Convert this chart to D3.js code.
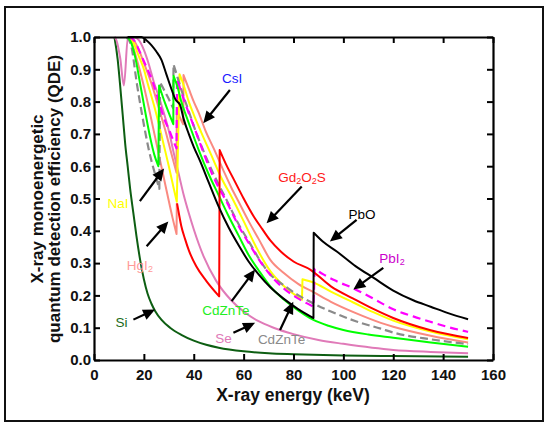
<!DOCTYPE html>
<html><head><meta charset="utf-8">
<script src="https://cdn.jsdelivr.net/npm/d3@7"></script>
<style>
html,body{margin:0;padding:0;background:#fff;}
svg{display:block;font-family:"Liberation Sans",Arial,sans-serif;}
</style></head>
<body><svg id="c" width="550" height="427"></svg>
<script>
// ---- data (energy keV, QDE); each series = list of continuous segments ----
const xTicks = [0,20,40,60,80,100,120,140,160];
const yTicks = [0,0.1,0.2,0.3,0.4,0.5,0.6,0.7,0.8,0.9,1.0];
const xLabel = "X-ray energy (keV)";
const yLabel1 = "X-ray monoenergetic";
const yLabel2 = "quantum detection efficiency (QDE)";

const siQDE = [[[8.2,1.0],[9.5,0.93],[10.4,0.857],[11.5,0.76],[12.5,0.67],[13.5,0.6],[14.5,0.53],[15.8,0.454],[17,0.385],[18.5,0.31],[20,0.25],[21.5,0.205],[23,0.175],[24.5,0.152],[27,0.125],[30.5,0.1],[35,0.078],[40,0.06],[45,0.047],[50,0.038],[60,0.027],[70,0.021],[80,0.018],[100,0.014],[120,0.012],[150,0.010]]];
const seQDE = [[[8.2,1.0],[9,0.99],[10.5,0.935],[12.0,0.85],[13.6,1.0],[16,1.0],[18,0.99],[20,0.96],[22,0.915],[24,0.86],[26,0.815],[28,0.765],[30,0.71],[32,0.64],[34,0.575],[36,0.51],[38,0.455],[40,0.405],[44,0.32],[49,0.245],[55,0.185],[60,0.15],[66,0.12],[72,0.1],[80,0.08],[90,0.062],[100,0.05],[120,0.031],[135,0.025],[150,0.021]]];
const hgi2QDE = [[[13.5,1.0],[15,0.985],[17,0.935],[19.7,0.857],[22,0.78],[24.5,0.69],[27,0.6],[29.5,0.51],[31.5,0.44],[33.1,0.39]],[[33.2,0.485]]];
const csiQDE = [[[14.5,1.0],[16,0.99],[18,0.96],[20,0.92],[23,0.857],[26,0.78],[29,0.7],[31,0.64],[33.1,0.58]],[[33.2,0.775],[34.5,0.75],[35.8,0.73]],[[35.9,0.882],[38,0.84],[40,0.8],[42,0.765],[44.6,0.712],[48,0.655],[52,0.585],[55,0.535],[58,0.49],[62,0.43],[66,0.375],[70.7,0.31],[76,0.27],[82,0.235],[88,0.21],[95,0.18],[105,0.145],[115,0.115],[120,0.103],[135,0.075],[150,0.054]]];
const naiQDE = [[[14.5,1.0],[16,0.98],[18,0.94],[20,0.9],[21.5,0.857],[24,0.79],[26,0.73],[28,0.665],[30,0.6],[32,0.53],[33.2,0.49]],[[34.3,0.885],[36,0.85],[38,0.8],[40,0.76],[43,0.705],[47,0.635],[51,0.565],[55.5,0.5],[60,0.43],[65,0.35],[70.7,0.275],[76,0.23],[83.4,0.187]],[[83.6,0.25],[88,0.24],[95,0.212],[104,0.178],[112,0.148],[120,0.122],[135,0.088],[150,0.064]]];
const cztGrayQDE = [[[13,1.0],[15,0.97],[17.1,0.86],[19.5,0.75],[22,0.65],[24.5,0.575],[26.2,0.53]],[[26.5,0.86],[28.5,0.83],[30.5,0.8],[31.7,0.78]],[[31.9,0.915],[33.5,0.875],[35.5,0.825],[38,0.77],[40.6,0.712],[44,0.645],[48,0.575],[53.5,0.49],[58,0.42],[63,0.355],[66,0.315],[70.7,0.265],[76,0.232],[82,0.2],[88,0.175],[95,0.15],[105,0.12],[115,0.097],[120,0.085],[135,0.064],[150,0.049]]];
const pbi2QDE = [[[14,1.0],[16,0.99],[18,0.96],[20,0.925],[22,0.89],[23.7,0.857],[26,0.8],[28,0.75],[30.5,0.705],[32,0.675],[33.1,0.655]],[[33.3,0.87],[35,0.83],[37.5,0.775],[40.6,0.712],[44,0.64],[48,0.565],[53.5,0.485],[58,0.415],[63,0.35],[68,0.29],[72,0.252],[76,0.222],[82,0.19],[88,0.165]],[[88.5,0.282],[92,0.265],[97,0.245],[104,0.222],[112,0.19],[120,0.157],[128,0.135],[135,0.118],[142,0.102],[150,0.087]]];
const cztGreenQDE = [[[13.5,1.0],[15,0.98],[17,0.92],[18.5,0.855],[20.5,0.77],[22.5,0.69],[24.2,0.635],[25.8,0.6]],[[26.1,0.85],[28.5,0.795],[30.5,0.755],[31.8,0.73]],[[31.9,0.88],[33.5,0.845],[35,0.8],[37,0.755],[39,0.712],[42,0.65],[46,0.575],[50,0.51],[54,0.445],[58,0.385],[62,0.325],[66,0.278],[70.7,0.228],[76,0.188],[82,0.153],[88,0.124],[94,0.106],[100,0.093],[110,0.079],[120,0.069],[135,0.054],[150,0.041]]];
const gdQDE = [[[33.3,0.485],[34,0.455],[35,0.415],[36.5,0.375],[38,0.34],[41,0.29],[45,0.245],[50.2,0.197]],[[50.4,0.65],[53,0.605],[56,0.56],[60,0.5],[64,0.445],[67.5,0.405],[70.7,0.37],[75,0.335],[80,0.305],[86.7,0.28],[95,0.228],[104,0.19],[112,0.158],[120,0.13],[135,0.092],[150,0.068]]];
const pboQDE = [[[13.5,1.0],[19,1.0],[21,0.99],[23,0.975],[25,0.955],[27,0.93],[29,0.885],[31,0.84],[32.8,0.805],[33.4,0.8],[34.5,0.79],[36,0.745],[38,0.7],[40,0.66],[42.6,0.615],[46,0.55],[50,0.475],[54,0.41],[58,0.355],[62,0.305],[66,0.265],[70.7,0.225],[76,0.19],[82,0.157],[88,0.13]],[[88.1,0.394],[92,0.365],[97.5,0.335],[105,0.29],[112,0.255],[120,0.215],[128,0.185],[135,0.165],[142,0.145],[150,0.126]]];

// label texts & anchor positions (data units), arrows from -> to (data units)
const labelTexts = ["CsI","Gd|2|O|2|S","PbO","PbI|2","NaI","HgI|2","Si","CdZnTe","Se","CdZnTe"];
const labelColors = ["#1a1aff","#ff1a1a","#000000","#cc00cc","#ffff00","#ff9a9a","#1a6b1a","#22ee22","#e07ab8","#8a8a8a"];
const labelPos = [[55.4,0.873],[83.4,0.567],[107.5,0.452],[119.5,0.316],[9.6,0.486],[18.4,0.294],[11.0,0.118],[52.9,0.155],[51.9,0.068],[75.2,0.064]];
const arrowFrom = [[54.5,0.836],[83.3,0.537],[105.3,0.434],[116,0.285],[18.4,0.492],[21.1,0.352],[15.8,0.125],[55.2,0.182],[55.9,0.084],[74.6,0.093]];
const arrowTo = [[43.8,0.733],[69.2,0.423],[94.6,0.367],[104,0.218],[28.1,0.593],[29.8,0.429],[24.5,0.156],[64.6,0.28],[64.6,0.115],[79.9,0.18]];

// ---- drawing ----
const svg = d3.select("#c");
svg.append("rect").attr("x",5).attr("y",7).attr("width",538).attr("height",414)
  .attr("fill","#fff").attr("stroke","#111").attr("stroke-width",2);

const x = d3.scaleLinear().domain([0,160]).range([94,493]);
const y = d3.scaleLinear().domain([0,1]).range([360,37]);

const line = d3.line().x(d=>x(d[0])).y(d=>y(d[1])).curve(d3.curveMonotoneX);
function segPath(segs){
  return segs.map((s,i)=>{
    if(s.length===1){ return "L"+x(s[0][0])+","+y(s[0][1]); }
    const p=line(s); return i===0?p:"L"+p.slice(1);
  }).join("");
}
const series = [
  {d:siQDE,c:"#0d5e12",w:2},
  {d:seQDE,c:"#e07ab8",w:2},
  {d:hgi2QDE,c:"#fa8a80",w:2},
  {d:csiQDE,c:"#fa8a80",w:2},
  {d:naiQDE,c:"#ffff00",w:2},
  {d:cztGrayQDE,c:"#8a8a8a",w:2.2,dash:"8,4"},
  {d:pbi2QDE,c:"#ff00ff",w:2.2,dash:"8,5"},
  {d:cztGreenQDE,c:"#00ff00",w:2},
  {d:gdQDE,c:"#ff0000",w:2},
  {d:pboQDE,c:"#000000",w:2}
];
const gPlot = svg.append("g");
series.forEach(s=>{
  gPlot.append("path").attr("d",segPath(s.d)).attr("fill","none")
   .attr("stroke",s.c).attr("stroke-width",s.w)
   .attr("stroke-dasharray",s.dash||null).attr("stroke-linejoin","round");
});

// axes (inward ticks on all four sides)
const fmtY = d3.format(".1f");
const axB = svg.append("g").attr("transform","translate(0,360)")
  .call(d3.axisBottom(x).tickValues(xTicks).tickSizeInner(-6).tickSizeOuter(0).tickPadding(6));
const axT = svg.append("g").attr("transform","translate(0,37)")
  .call(d3.axisTop(x).tickValues(xTicks).tickSizeInner(-6).tickSizeOuter(0).tickFormat(""));
const axL = svg.append("g").attr("transform","translate(94,0)")
  .call(d3.axisLeft(y).tickValues(yTicks).tickSizeInner(-6).tickSizeOuter(0).tickPadding(3).tickFormat(fmtY));
const axR = svg.append("g").attr("transform","translate(493,0)")
  .call(d3.axisRight(y).tickValues(yTicks).tickSizeInner(-6).tickSizeOuter(0).tickFormat(""));
[axB,axT,axL,axR].forEach(a=>{
  a.selectAll("path").attr("stroke","#000").attr("stroke-width",2.2);
  a.selectAll("line").attr("stroke","#000").attr("stroke-width",2);
  a.selectAll("text").attr("fill","#111").attr("font-size","15px").attr("font-weight","bold")
   .attr("font-family","'Liberation Sans',Arial,sans-serif");
});
axB.selectAll("text").attr("dy","0.9em");

svg.append("text").attr("x",293).attr("y",401).attr("text-anchor","middle")
  .attr("font-size","17.5px").attr("font-weight","bold").attr("fill","#111").text(xLabel);
svg.append("text").attr("transform","translate(43,199) rotate(-90)").attr("text-anchor","middle")
  .attr("font-size","17px").attr("font-weight","bold").attr("fill","#111").text(yLabel1);
svg.append("text").attr("transform","translate(60,199) rotate(-90)").attr("text-anchor","middle")
  .attr("font-size","17px").attr("font-weight","bold").attr("fill","#111").text(yLabel2);

// labels with subscripts
const gLab = svg.append("g");
labelTexts.forEach((t,i)=>{
  const tx = gLab.append("text").attr("x",x(labelPos[i][0])).attr("y",y(labelPos[i][1]))
    .attr("text-anchor","middle").attr("dominant-baseline","central")
    .attr("font-size","13.5px").attr("fill",labelColors[i]);
  t.split("|").forEach(part=>{
    if(/^\d$/.test(part)){
      tx.append("tspan").attr("font-size","9px").attr("dy","4").text(part);
    } else {
      const sp = tx.append("tspan").text(part);
      if(tx.selectAll("tspan").size()>1) sp.attr("dy","-4");
    }
  });
});
// arrows
const gArr = svg.append("g");
arrowFrom.forEach((f,i)=>{
  const x1=x(f[0]),y1=y(f[1]),x2=x(arrowTo[i][0]),y2=y(arrowTo[i][1]);
  const dx=x2-x1, dy=y2-y1, L=Math.hypot(dx,dy), ux=dx/L, uy=dy/L;
  const hl=12, hw=5.5;
  const bx=x2-ux*hl, by=y2-uy*hl;
  gArr.append("line").attr("x1",x1).attr("y1",y1).attr("x2",bx+ux*2).attr("y2",by+uy*2)
    .attr("stroke","#000").attr("stroke-width",2.2);
  gArr.append("polygon").attr("points",[[x2,y2],[bx-uy*hw,by+ux*hw],[bx+uy*hw,by-ux*hw]].map(p=>p.join(",")).join(" "))
    .attr("fill","#000");
});
</script></body></html>
